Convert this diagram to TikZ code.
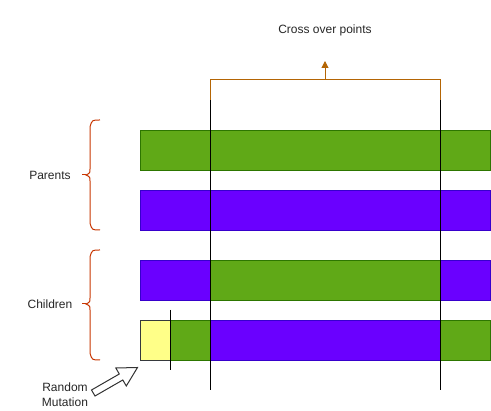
\documentclass[tikz,border=0pt]{standalone}
\usepackage{fontspec}
\setmainfont{Liberation Sans}
\usetikzlibrary{arrows.meta}

\definecolor{genegreen}{HTML}{60A917}
\definecolor{genegreenline}{HTML}{2D7600}
\definecolor{genepurple}{HTML}{6A00FF}
\definecolor{genepurpleline}{HTML}{3700CC}
\definecolor{geneyellow}{HTML}{FFFF88}
\definecolor{geneyellowline}{HTML}{36393D}
\definecolor{bracecol}{HTML}{C73500}
\definecolor{crosscol}{HTML}{B46504}

\tikzset{
	seg/.style={draw, line width=1pt, minimum height=40pt, inner sep=0pt, anchor=north west},
	gsec/.style={seg, fill=genegreen, draw=genegreenline},
	psec/.style={seg, fill=genepurple, draw=genepurpleline},
	ysec/.style={seg, fill=geneyellow, draw=geneyellowline},
	label/.style={text=black!85, inner sep=0pt}
}

\begin{document}
\begin{tikzpicture}[x=1pt,y=-1pt,font=\fontsize{12}{15}\selectfont,line width=1pt]
	\useasboundingbox (0,0) rectangle (491,411);

	% Parents
	\node[gsec, minimum width=350pt] (pa) at (140,130) {};
	\node[psec, minimum width=350pt] (pb) at (140,190) {};

	% Children
	\node[psec, minimum width=70pt] (ca1) at (140,260) {};
	\node[gsec, minimum width=230pt] (ca2) at (210,260) {};
	\node[psec, minimum width=50pt] (ca3) at (440,260) {};
	\node[ysec, minimum width=30pt] (cb0) at (140,320) {};
	\node[gsec, minimum width=40pt] (cb1) at (170,320) {};
	\node[psec, minimum width=230pt] (cb2) at (210,320) {};
	\node[gsec, minimum width=50pt] (cb3) at (440,320) {};

	% Cross over lines
	\coordinate (xa) at (210,100);
	\coordinate (xb) at (440,100);
	\draw (xa) -- (210,390);
	\draw (xb) -- (440,390);
	\draw (170,310) -- (170,370);

	% Bracket and arrow
	\node[label] (cross) at (325,30) {Cross over points};
	\coordinate (mid) at (325,80);
	\coordinate (tip) at (325,61);
	\draw[crosscol] (xa) -- (210,80) -- (440,80) -- (xb);
	\draw[crosscol,-{Triangle[width=7pt,length=7pt]}] (mid) -- (tip);

	% Braces
	\draw[bracecol] (100,120) .. controls (92,120) .. (90,127) -- (90,169)
		.. controls (90,173) .. (86,175) .. controls (90,177) .. (90,181)
		-- (90,223) .. controls (92,230) .. (100,230);
	\draw[bracecol] (86,175) -- (82,175);
	\draw[bracecol] (100,250) .. controls (92,250) .. (90,257) -- (90,298)
		.. controls (90,302) .. (86,304) .. controls (90,306) .. (90,310)
		-- (90,353) .. controls (92,360) .. (100,360);
	\draw[bracecol] (86,304) -- (82,304);
	\node[label] (par) at (50,175) {Parents};
	\node[label] (chi) at (50,304) {Children};

	% Mutation arrow
	\node[label, align=center] (mut) at (65,395) {Random\\Mutation};
	\draw[fill=white, draw=black!80] (137.5,367.5) -- (126.3,386) -- (122.8,380)
		-- (95,396) -- (91.5,390) -- (119.3,374) -- (115.8,368) -- cycle;

\end{tikzpicture}
\end{document}
